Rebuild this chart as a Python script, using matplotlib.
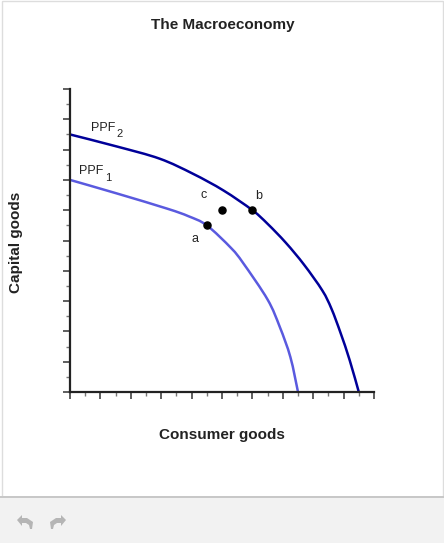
import matplotlib
matplotlib.use("Agg")
import matplotlib.pyplot as plt
from matplotlib.patches import Rectangle, PathPatch
from matplotlib.path import Path

plt.rcParams['font.family'] = ['Liberation Sans', 'DejaVu Sans']

# curves
ppf1_x = [0, 3.1, 6.4, 7.8, 9.0, 10.6, 11.4, 13.0, 13.8, 14.5, 15]
ppf1_y = [14, 13.1, 12.1, 11.6, 11, 9.5, 8.5, 6.1, 4.3, 2.3, 0]
ppf2_x = [0, 3.1, 5.9, 8.1, 10.1, 12, 13, 14.2, 15.4, 16.6, 17.2, 17.8, 18.4, 19]
ppf2_y = [17, 16.2, 15.4, 14.4, 13.3, 12, 11.1, 9.85, 8.4, 6.7, 5.5, 3.9, 2.1, 0]
point_x = [9, 12, 10]
point_y = [11, 12, 12]
point_names = ['a', 'b', 'c']
point_label_x = [8.2, 12.4, 8.8]
point_label_y = [10.1, 12.95, 13]

W, H = 444, 543
TEXT = '#222222'
fig = plt.figure(figsize=(W/100, H/100), dpi=100, facecolor='white')

def px_rect(x0, y0, x1, y1, **kw):
    # pixel box, y measured from the top of the image
    fig.add_artist(Rectangle((x0/W, 1 - y1/H), (x1-x0)/W, (y1-y0)/H,
                             transform=fig.transFigure, **kw))

# smooth curve through the read points, bezier segments
def smooth_path(xs, ys):
    pts = list(zip(xs, ys))
    verts = [pts[0]]
    codes = [Path.MOVETO]
    for i in range(len(pts) - 1):
        p0 = pts[max(i-1, 0)]
        p1 = pts[i]
        p2 = pts[i+1]
        p3 = pts[min(i+2, len(pts)-1)]
        c1 = (p1[0] + (p2[0]-p0[0])/6, p1[1] + (p2[1]-p0[1])/6)
        c2 = (p2[0] - (p3[0]-p1[0])/6, p2[1] - (p3[1]-p1[1])/6)
        verts += [c1, c2, p2]
        codes += [Path.CURVE4]*3
    return Path(verts, codes)

# panel frame and toolbar band
px_rect(1.5, 0.5, 442.5, 497, facecolor='white', edgecolor='#dddddd', linewidth=1)
px_rect(0, 497, W, H, facecolor='#f2f2f2', edgecolor='none')
px_rect(0, 496, W, 497.5, facecolor='#c8c8c8', edgecolor='none')

ax = fig.add_axes([70/W, 1 - 392/H, 304/W, 303/H], zorder=3)
ax.patch.set_alpha(0)
ax.set_xlim(0, 20)
ax.set_ylim(0, 20)
for side in ['top', 'right']:
    ax.spines[side].set_visible(False)
for side in ['left', 'bottom']:
    ax.spines[side].set_linewidth(1.6)
    ax.spines[side].set_color(TEXT)
ax.set_xticks(range(0, 21, 2))
ax.set_yticks(range(0, 21, 2))
ax.set_xticks(range(1, 20, 2), minor=True)
ax.set_yticks(range(1, 20, 2), minor=True)
ax.tick_params(which='major', length=5, width=1.1, color='#333333', labelbottom=False, labelleft=False)
ax.tick_params(which='minor', length=3.2, width=1, color='#777777')

ax.add_patch(PathPatch(smooth_path(ppf1_x, ppf1_y), fill=False, edgecolor='#5a5adf', lw=1.8, capstyle='butt', clip_on=False))
ax.add_patch(PathPatch(smooth_path(ppf2_x, ppf2_y), fill=False, edgecolor='#000099', lw=1.8, capstyle='butt', clip_on=False))
ax.scatter(point_x, point_y, s=26, color='black', zorder=5)

# PPF labels, subscripts set by hand so they sit low like the original
ax.text(1.4, 17.2, 'PPF', fontsize=9, ha='left', va='baseline', color=TEXT)
ax.text(3.08, 16.8, '2', fontsize=8, ha='left', va='baseline', color=TEXT)
ax.text(0.6, 14.36, 'PPF', fontsize=9, ha='left', va='baseline', color=TEXT)
ax.text(2.28, 13.96, '1', fontsize=8, ha='left', va='baseline', color=TEXT)
for name, lx, ly in zip(point_names, point_label_x, point_label_y):
    ax.text(lx, ly, name, fontsize=9, ha='center', va='center', color=TEXT)

fig.text(222.5/W, 1 - 25/H, 'The Macroeconomy', fontsize=11, fontweight='bold', ha='center', va='center', color=TEXT, zorder=4)
fig.text(222/W, 1 - 435/H, 'Consumer goods', fontsize=11, fontweight='bold', ha='center', va='center', color=TEXT, zorder=4)
fig.text(16/W, 1 - 242/H, 'Capital goods', fontsize=11, fontweight='bold', rotation=90, ha='center', va='center', color=TEXT, zorder=4)

# undo / redo icons
def arrow_icon(cx, flip):
    pts = [(-8, -2), (-3, -7), (-3, -4), (2, -4), (8, 0), (7, 7), (5, 7), (4, 3), (1, 1), (-3, 1), (-3, 4), (-8, -2)]
    codes = [Path.MOVETO] + [Path.LINETO]*10 + [Path.CLOSEPOLY]
    verts = [((cx + flip*x)/W, 1 - (522 + y)/H) for x, y in pts]
    fig.add_artist(PathPatch(Path(verts, codes), transform=fig.transFigure, facecolor='#b5b5b5', edgecolor='none'))

arrow_icon(25, 1)
arrow_icon(58, -1)

fig.savefig('out.png', dpi=100)
